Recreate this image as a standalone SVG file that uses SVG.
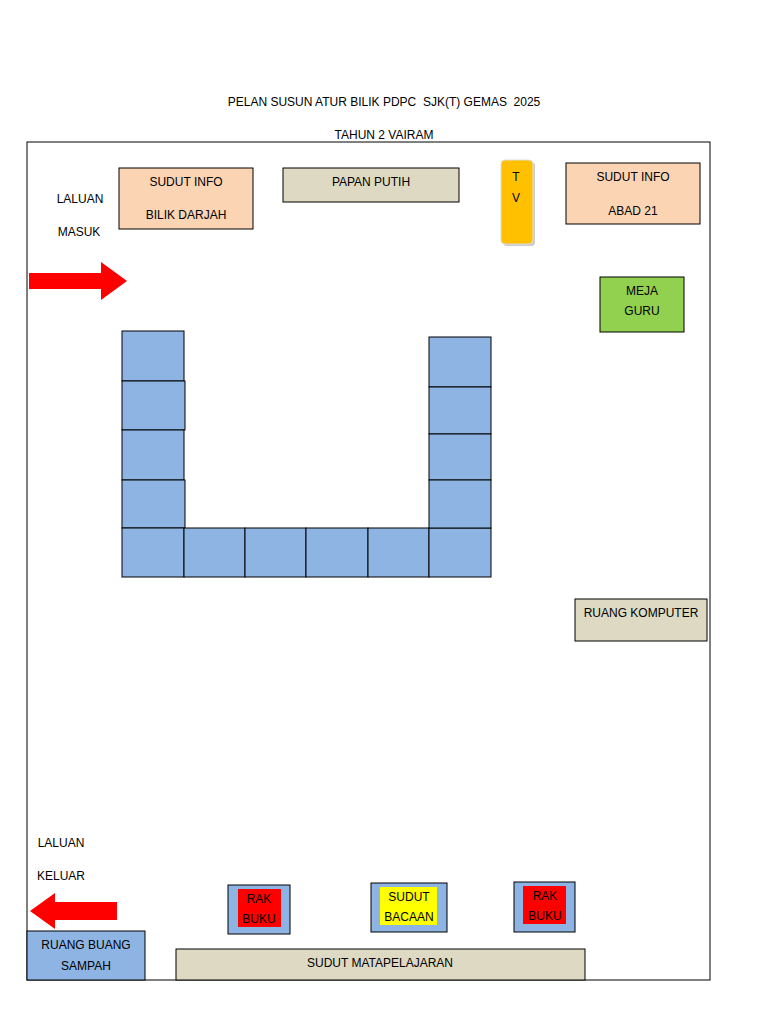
<svg xmlns="http://www.w3.org/2000/svg" width="768" height="1024" viewBox="0 0 768 1024">
<style>
text{font-family:"Liberation Sans","Open Sans",sans-serif;font-size:12px;fill:#000;text-anchor:middle}
.d{fill:#8EB4E3;stroke:#000;stroke-width:1}
.b{stroke:#000;stroke-width:1}
</style>
<rect width="768" height="1024" fill="#fff"/>
<text x="384" y="106" xml:space="preserve">PELAN SUSUN ATUR BILIK PDPC  SJK(T) GEMAS  2025</text>
<text x="384" y="139">TAHUN 2 VAIRAM</text>
<rect x="27" y="142" width="683" height="838" fill="none" stroke="#000"/>
<g id="labels">
<text x="80" y="203">LALUAN</text><text x="79" y="236">MASUK</text>
<text x="61" y="847">LALUAN</text><text x="61" y="880">KELUAR</text>
</g>
<g id="sudut-info-bilik"><rect class="b" x="119" y="168" width="134" height="61" fill="#FBD4B4"/><text x="186" y="186">SUDUT INFO</text><text x="186" y="219">BILIK DARJAH</text></g>
<g id="papan-putih"><rect class="b" x="283" y="168" width="176" height="34" fill="#DDD9C3"/><text x="371" y="186">PAPAN PUTIH</text></g>
<g id="tv"><rect x="503" y="162" width="32" height="84" rx="4" fill="#ccc"/><rect x="501" y="160" width="32" height="84" rx="4" fill="#FFC000" stroke="#ddd"/><text x="516" y="181">T</text><text x="516" y="202">V</text></g>
<g id="sudut-info-abad"><rect class="b" x="566" y="163" width="134" height="61" fill="#FBD4B4"/><text x="633" y="181">SUDUT INFO</text><text x="633" y="215">ABAD 21</text></g>
<g id="meja-guru"><rect class="b" x="600" y="277" width="84" height="55" fill="#92D050"/><text x="642" y="295">MEJA</text><text x="642" y="315">GURU</text></g>
<g id="ruang-komputer"><rect class="b" x="575" y="599" width="132" height="42" fill="#DDD9C3"/><text x="641" y="617">RUANG KOMPUTER</text></g>
<g id="desks">
<rect class="d" x="122" y="331" width="62" height="50"/><rect class="d" x="122" y="381" width="63" height="49"/><rect class="d" x="122" y="430" width="62" height="50"/><rect class="d" x="122" y="480" width="63" height="48"/>
<rect class="d" x="122" y="528" width="62" height="49"/><rect class="d" x="184" y="528" width="61" height="49"/><rect class="d" x="245" y="528" width="61" height="49"/><rect class="d" x="306" y="528" width="62" height="49"/><rect class="d" x="368" y="528" width="61" height="49"/><rect class="d" x="429" y="528" width="62" height="49"/>
<rect class="d" x="429" y="337" width="62" height="50"/><rect class="d" x="429" y="387" width="62" height="47"/><rect class="d" x="429" y="434" width="62" height="46"/><rect class="d" x="429" y="480" width="62" height="48"/>
</g>
<g id="connectors">
<polygon points="29,273 101,273 101,262 127,281 101,300 101,289 29,289" fill="#FF0000"/>
<polygon points="117,902 55,902 55,893 30,911 55,929 55,920 117,920" fill="#FF0000"/>
</g>
<g id="rak-buku-1"><rect class="b" x="228" y="885" width="62" height="49" fill="#8EB4E3"/><rect x="238" y="889" width="43" height="38" fill="#FF0000"/><text x="259" y="903">RAK</text><text x="259" y="923">BUKU</text></g>
<g id="sudut-bacaan"><rect class="b" x="371" y="883" width="76" height="49" fill="#8EB4E3"/><rect x="380" y="887" width="57" height="38" fill="#FFFF00"/><text x="409" y="901">SUDUT</text><text x="409" y="921">BACAAN</text></g>
<g id="rak-buku-2"><rect class="b" x="514" y="882" width="61" height="50" fill="#8EB4E3"/><rect x="523" y="886" width="43" height="38" fill="#FF0000"/><text x="545" y="900">RAK</text><text x="545" y="920">BUKU</text></g>
<g id="ruang-buang-sampah"><rect class="b" x="27" y="931" width="118" height="49" fill="#8EB4E3"/><text x="86" y="949">RUANG BUANG</text><text x="86" y="970">SAMPAH</text></g>
<g id="sudut-matapelajaran"><rect class="b" x="176" y="949" width="409" height="31" fill="#DDD9C3"/><text x="380" y="967">SUDUT MATAPELAJARAN</text></g>
</svg>
